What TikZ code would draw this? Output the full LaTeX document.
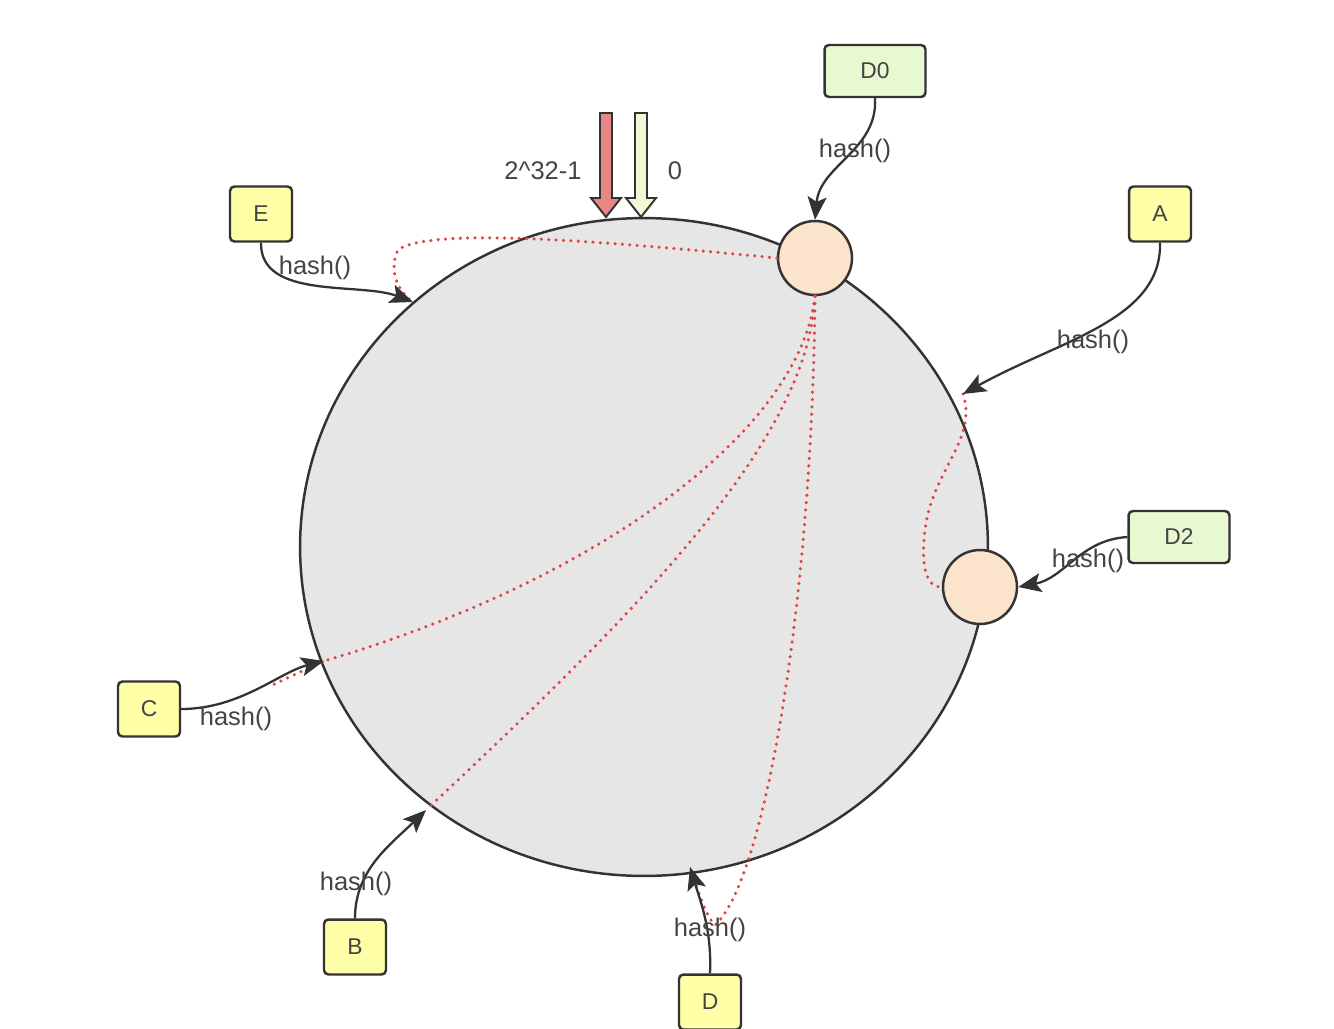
\documentclass[tikz,border=0pt]{standalone}
\usepackage{fontspec}
\setmainfont{Liberation Sans}
\usetikzlibrary{arrows.meta,shapes.geometric}
\definecolor{ringfill}{HTML}{E6E6E6}
\definecolor{linecol}{HTML}{333333}
\definecolor{yel}{HTML}{FFFFA8}
\definecolor{grn}{HTML}{E8F8D0}
\definecolor{peach}{HTML}{FBE3CC}
\definecolor{redarr}{HTML}{E88585}
\definecolor{grnarr}{HTML}{F0F8D4}
\definecolor{dotred}{HTML}{E04545}
\definecolor{txt}{HTML}{444444}
\tikzset{
  ybox/.style={draw=linecol, line width=1.4pt, fill=yel, rounded corners=2.5pt, minimum width=1.24cm, minimum height=1.1cm, inner sep=0pt, font=\fontsize{13}{15}\selectfont, text=txt},
  gbox/.style={ybox, fill=grn, minimum width=2.02cm, minimum height=1.04cm},
  srvnode/.style={circle, draw=linecol, line width=1.4pt, fill=peach, minimum size=1.48cm, inner sep=0pt},
  conn/.style={draw=linecol, line width=1.3pt, -{Stealth[length=0.46cm,width=0.38cm,inset=0.1cm]}},
  lbl/.style={font=\fontsize{14.5}{16}\selectfont, text=txt, inner sep=0pt},
  redline/.style={draw=dotred, line width=2pt, line cap=round, dash pattern=on 0pt off 4.2pt},
  bigarrow/.style={draw=linecol, line width=1.1pt, line join=miter}
}
\begin{document}
\begin{tikzpicture}[x=0.02cm,y=-0.02cm]
\useasboundingbox (0,0) rectangle (1334,1028);
\fill[white] (0,0) rectangle (1334,1028);
% ring
\node[ellipse, draw=linecol, line width=1.4pt, fill=ringfill, minimum width=13.76cm, minimum height=13.16cm, inner sep=0pt] (ring) at (644,547) {};
% ring points
\coordinate (tE) at (413,302);
\coordinate (tA) at (963,394);
\coordinate (tC) at (324,661);
\coordinate (tB) at (426,810);
\coordinate (tD) at (690,867);
% server circles
\node[srvnode] (d0c) at (815,258) {};
\node[srvnode] (d2c) at (980,587) {};
% boxes
\node[gbox] (d0) at (875,71) {D0};
\node[ybox] (e) at (261,214) {E};
\node[ybox] (a) at (1160,214) {A};
\node[gbox] (d2) at (1179,537) {D2};
\node[ybox] (c) at (149,709) {C};
\node[ybox] (b) at (355,947) {B};
\node[ybox] (d) at (710,1002) {D};
% top arrows
\filldraw[bigarrow, fill=redarr] (600,113) -- (612,113) -- (612,198) -- (621,198) -- (606,217) -- (591,198) -- (600,198) -- cycle;
\filldraw[bigarrow, fill=grnarr] (635,113) -- (647,113) -- (647,198) -- (656,198) -- (641,217) -- (626,198) -- (635,198) -- cycle;
\node[lbl] (lmax) at (543,171) {2\^{}32-1};
\node[lbl] (lzero) at (675,171) {0};
% red dotted lines
\draw[redline] (d0c.west) .. controls (650,246) and (430,224) .. (398,250) .. controls (388,270) and (398,292) .. (tE);
\draw[redline] (d0c.south) .. controls (800,430) and (600,580) .. (tC) -- (270,686);
\draw[redline] (d0c.south) .. controls (808,440) and (640,610) .. (tB);
\draw[redline] (d0c.south) .. controls (812,600) and (765,880) .. (715,925) .. controls (705,915) and (698,890) .. (tD);
\draw[redline] (tA) .. controls (978,440) and (932,470) .. (925,530) .. controls (920,570) and (928,588) .. (d2c.west);
% connectors
\draw[conn] (d0.south) .. controls (878,150) and (820,165) .. (d0c.north);
\draw[conn] (e.south) .. controls (260,300) and (360,282) .. (tE);
\draw[conn] (a.south) .. controls (1162,320) and (1060,340) .. (tA);
\draw[conn] (d2.west) .. controls (1080,540) and (1065,578) .. (d2c.east);
\draw[conn] (c.east) .. controls (240,709) and (280,672) .. (tC);
\draw[conn] (b.north) .. controls (355,870) and (390,845) .. (tB);
\draw[conn] (d.north) .. controls (712,930) and (700,900) .. (tD);
% labels
\node[lbl] (h0) at (855,151) {hash()};
\node[lbl] (hE) at (315,268) {hash()};
\node[lbl] (hA) at (1093,342) {hash()};
\node[lbl] (h2) at (1088,561) {hash()};
\node[lbl] (hC) at (236,719) {hash()};
\node[lbl] (hB) at (356,884) {hash()};
\node[lbl] (hD) at (710,930) {hash()};
\end{tikzpicture}
\end{document}
